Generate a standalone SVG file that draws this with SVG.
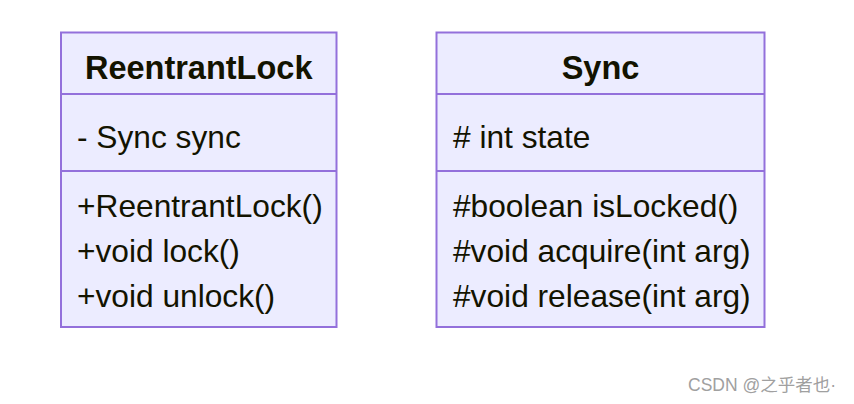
<svg xmlns="http://www.w3.org/2000/svg" width="854" height="404" viewBox="0 0 854 404">
<style>
.box{fill:#ECECFF;stroke:#9370DB;stroke-width:2}
.div{stroke:#9370DB;stroke-width:2}
text{font-family:"Liberation Sans",Arial,sans-serif;fill:#131300;font-size:31.7px}
.title{font-weight:bold;text-anchor:middle;font-size:32.5px}
.wm{fill:#a0a0a0;font-size:17.5px;font-family:"Liberation Sans","Noto Sans CJK SC",sans-serif}
</style>
<rect width="854" height="404" fill="#fff"/>
<g id="ReentrantLock">
<rect class="box" x="61" y="32.5" width="275.5" height="294.5"/>
<line class="div" x1="61" y1="94" x2="336.5" y2="94"/>
<line class="div" x1="61" y1="171" x2="336.5" y2="171"/>
<text class="title" x="198.7" y="79">ReentrantLock</text>
<text x="77" y="148">- Sync sync</text>
<text x="77" y="217">+ReentrantLock()</text>
<text x="77" y="262">+void lock()</text>
<text x="77" y="307">+void unlock()</text>
</g>
<g id="Sync">
<rect class="box" x="436.5" y="32.5" width="328" height="294.5"/>
<line class="div" x1="436.5" y1="94" x2="764.5" y2="94"/>
<line class="div" x1="436.5" y1="171" x2="764.5" y2="171"/>
<text class="title" x="600.5" y="79">Sync</text>
<text x="453" y="148"># int state</text>
<text x="453" y="217">#boolean isLocked()</text>
<text x="453" y="262">#void acquire(int arg)</text>
<text x="453" y="307">#void release(int arg)</text>
</g>
<g id="connectors"></g>
<text class="wm" x="688" y="391">CSDN @之乎者也·</text>
</svg>
